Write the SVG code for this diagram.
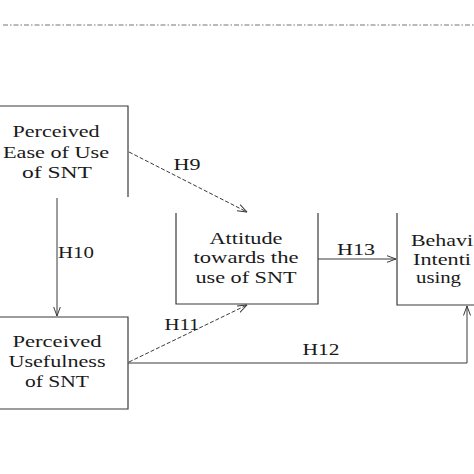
<svg xmlns="http://www.w3.org/2000/svg" width="474" height="474" viewBox="0 0 474 474">
<style>
.bg{fill:#ffffff}
.edge{fill:none;stroke:#3a3a3a;stroke-width:1.2}
.conn{fill:none;stroke:#3a3a3a;stroke-width:1}
.dash{stroke-dasharray:4,2}
.t{font-family:"Liberation Serif","Times New Roman",serif;font-size:16px;fill:#1a1a1a;text-anchor:middle}
.ts{font-family:"Liberation Serif","Times New Roman",serif;font-size:16px;fill:#1a1a1a;text-anchor:start}
.rule{fill:none;stroke:#777;stroke-width:1.2;stroke-dasharray:5,2,1.5,2}
</style>
<defs>
<marker id="arr" viewBox="0 0 10 8" refX="9.5" refY="4" markerWidth="10" markerHeight="8" markerUnits="userSpaceOnUse" orient="auto">
<path d="M0,0.5 L9.5,4 L0,7.5" fill="none" stroke="#3a3a3a" stroke-width="1"/>
</marker>
</defs>
<rect class="bg" x="0" y="0" width="474" height="474"/>
<line class="rule" x1="3" y1="25" x2="474" y2="25"/>

<g id="peou">
<path class="edge" d="M0,106 H128 V197"/>
<text class="t" x="56" y="137" textLength="87" lengthAdjust="spacingAndGlyphs">Perceived</text>
<text class="t" x="56" y="158" textLength="106" lengthAdjust="spacingAndGlyphs">Ease of Use</text>
<text class="t" x="57" y="178" textLength="70" lengthAdjust="spacingAndGlyphs">of SNT</text>
</g>

<g id="pu">
<path class="edge" d="M0,317 H128 V409 H0"/>
<text class="t" x="57" y="347" textLength="89" lengthAdjust="spacingAndGlyphs">Perceived</text>
<text class="t" x="57" y="367" textLength="97" lengthAdjust="spacingAndGlyphs">Usefulness</text>
<text class="t" x="57" y="387" textLength="64" lengthAdjust="spacingAndGlyphs">of SNT</text>
</g>

<g id="attitude">
<path class="edge" d="M176,213 V304 H318 V213"/>
<text class="t" x="246" y="244" textLength="73" lengthAdjust="spacingAndGlyphs">Attitude</text>
<text class="t" x="246" y="263" textLength="105" lengthAdjust="spacingAndGlyphs">towards the</text>
<text class="t" x="246" y="283" textLength="101" lengthAdjust="spacingAndGlyphs">use of SNT</text>
</g>

<g id="bi">
<path class="edge" d="M397,213 V305 H474"/>
<text class="ts" x="411" y="246" textLength="62" lengthAdjust="spacingAndGlyphs">Behavi</text>
<text class="ts" x="413" y="265" textLength="58" lengthAdjust="spacingAndGlyphs">Intenti</text>
<text class="ts" x="416" y="283" textLength="45" lengthAdjust="spacingAndGlyphs">using</text>
</g>

<g id="connectors">
<line class="conn dash" x1="129" y1="152" x2="247" y2="212" marker-end="url(#arr)"/>
<line class="conn" x1="57" y1="198" x2="57" y2="316" marker-end="url(#arr)"/>
<line class="conn dash" x1="129" y1="362" x2="247" y2="305" marker-end="url(#arr)"/>
<path class="conn" d="M128,363 H467 V306" marker-end="url(#arr)"/>
<line class="conn" x1="318" y1="259" x2="396" y2="259" marker-end="url(#arr)"/>
<text class="t" x="187" y="170" textLength="27" lengthAdjust="spacingAndGlyphs">H9</text>
<text class="t" x="76" y="258" textLength="36" lengthAdjust="spacingAndGlyphs">H10</text>
<text class="t" x="182" y="330" textLength="35" lengthAdjust="spacingAndGlyphs">H11</text>
<text class="t" x="321" y="355" textLength="37" lengthAdjust="spacingAndGlyphs">H12</text>
<text class="t" x="356" y="255" textLength="38" lengthAdjust="spacingAndGlyphs">H13</text>
</g>
</svg>
